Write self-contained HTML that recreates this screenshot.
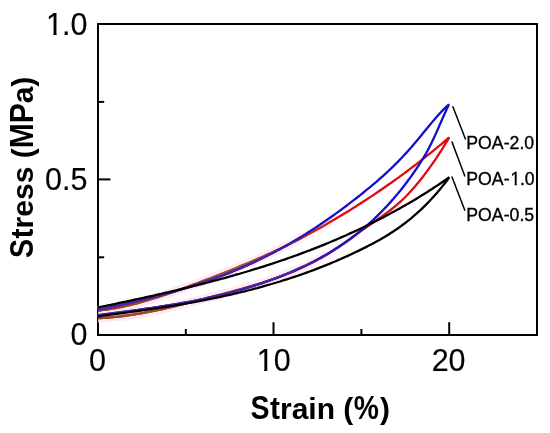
<!DOCTYPE html>
<html><head><meta charset="utf-8"><style>
html,body{margin:0;padding:0;background:#fff;}
body{width:550px;height:433px;overflow:hidden;position:relative;}
svg{position:absolute;left:0;top:0;}
text{font-family:"Liberation Sans",Arial,sans-serif;fill:#000;}
.tt{position:absolute;font-family:"Liberation Sans",Arial,sans-serif;font-weight:bold;font-size:30px;line-height:30px;height:30px;white-space:nowrap;color:#000;margin:0;padding:0;}
.tt span{display:inline-block;transform-origin:50% 25.4px;}
.cs{transform:scale(0.95,1.11);} .ct{transform:scaleY(1.07);} .cp{transform:scale(0.94,1.13);} .cm{transform:scaleY(1.08);}
#xt{left:249.99px;top:394.1px;}
#yt{left:33px;top:233.17px;transform-origin:0 25.4px;transform:rotate(-90deg);}
</style></head><body>
<svg width="550" height="433" viewBox="0 0 550 433">
<g stroke="#000" stroke-width="2" fill="none">
<rect x="98" y="24" width="439" height="311"/>
</g>
<g stroke="#000" stroke-width="2">
<line x1="98" y1="179.4" x2="110.5" y2="179.4"/>
<line x1="98" y1="101.9" x2="104.2" y2="101.9"/>
<line x1="98" y1="257.3" x2="104.2" y2="257.3"/>
<line x1="273.5" y1="335" x2="273.5" y2="322.2"/>
<line x1="449.2" y1="335" x2="449.2" y2="322.2"/>
<line x1="185.8" y1="335" x2="185.8" y2="329"/>
<line x1="361.4" y1="335" x2="361.4" y2="329"/>
</g>
<defs>
<linearGradient id="gPink" gradientUnits="userSpaceOnUse" x1="98" y1="0" x2="360" y2="0">
<stop offset="0" stop-color="#fde6ef" stop-opacity="0.9"/><stop offset="0.75" stop-color="#fde6ef" stop-opacity="0.7"/><stop offset="1" stop-color="#fde6ef" stop-opacity="0"/></linearGradient>
<linearGradient id="gBrL" gradientUnits="userSpaceOnUse" x1="98" y1="0" x2="335" y2="0">
<stop offset="0" stop-color="#8f4c2a"/><stop offset="0.8" stop-color="#9a5030"/><stop offset="1" stop-color="#9a5030" stop-opacity="0"/></linearGradient>
<linearGradient id="gBrU" gradientUnits="userSpaceOnUse" x1="98" y1="0" x2="365" y2="0">
<stop offset="0" stop-color="#8f4c2a"/><stop offset="0.82" stop-color="#9a5030"/><stop offset="1" stop-color="#9a5030" stop-opacity="0"/></linearGradient>
<linearGradient id="gPuL" gradientUnits="userSpaceOnUse" x1="98" y1="0" x2="320" y2="0">
<stop offset="0" stop-color="#5226a6"/><stop offset="0.75" stop-color="#5226a6" stop-opacity="0.8"/><stop offset="1" stop-color="#5226a6" stop-opacity="0"/></linearGradient>
<linearGradient id="gPuU" gradientUnits="userSpaceOnUse" x1="98" y1="0" x2="350" y2="0">
<stop offset="0" stop-color="#5226a6"/><stop offset="0.8" stop-color="#5226a6" stop-opacity="0.8"/><stop offset="1" stop-color="#5226a6" stop-opacity="0"/></linearGradient>
</defs>
<path d="M98.00,310.51 L100.53,310.25 L103.05,309.96 L105.58,309.64 L108.11,309.29 L110.64,308.90 L113.16,308.48 L115.69,308.04 L118.22,307.57 L120.75,307.07 L123.27,306.54 L125.80,305.99 L128.33,305.41 L130.86,304.80 L133.38,304.18 L135.91,303.53 L138.44,302.86 L140.96,302.17 L143.49,301.46 L146.02,300.74 L148.55,299.99 L151.07,299.23 L153.60,298.45 L156.13,297.65 L158.66,296.85 L161.18,296.02 L163.71,295.19 L166.24,294.34 L168.77,293.48 L171.29,292.61 L173.82,291.74 L176.35,290.85 L178.87,289.96 L181.40,289.06 L183.93,288.15 L186.46,287.23 L188.98,286.31 L191.51,285.38 L194.04,284.44 L196.57,283.50 L199.09,282.55 L201.62,281.60 L204.15,280.64 L206.68,279.68 L209.20,278.71 L211.73,277.73 L214.26,276.75 L216.78,275.77 L219.31,274.78 L221.84,273.79 L224.37,272.79 L226.89,271.79 L229.42,270.78 L231.95,269.76 L234.48,268.74 L237.00,267.71 L239.53,266.67 L242.06,265.63 L244.59,264.57 L247.11,263.51 L249.64,262.44 L252.17,261.36 L254.69,260.27 L257.22,259.17 L259.75,258.06 L262.28,256.94 L264.80,255.81 L267.33,254.66 L269.86,253.51 L272.39,252.34 L274.91,251.16 L277.44,249.97 L279.97,248.76 L282.50,247.54 L285.02,246.31 L287.55,245.06 L290.08,243.80 L292.61,242.53 L295.13,241.24 L297.66,239.94 L300.19,238.63 L302.71,237.30 L305.24,235.96 L307.77,234.60 L310.30,233.24 L312.82,231.86 L315.35,230.46 L317.88,229.06 L320.41,227.64 L322.93,226.21 L325.46,224.76 L327.99,223.30 L330.52,221.83 L333.04,220.35 L335.57,218.85 L338.10,217.35 L340.62,215.83 L343.15,214.29 L345.68,212.75 L348.21,211.19 L350.73,209.62 L353.26,208.03 L355.79,206.44 L358.32,204.83" fill="none" stroke="url(#gPink)" stroke-width="9" stroke-linecap="butt"/>
<path d="M98.00,318.20 L100.53,318.08 L103.05,317.94 L105.58,317.77 L108.11,317.58 L110.64,317.37 L113.16,317.14 L115.69,316.88 L118.22,316.61 L120.75,316.31 L123.27,316.00 L125.80,315.67 L128.33,315.31 L130.86,314.94 L133.38,314.56 L135.91,314.15 L138.44,313.73 L140.96,313.30 L143.49,312.85 L146.02,312.38 L148.55,311.90 L151.07,311.41 L153.60,310.90 L156.13,310.38 L158.66,309.85 L161.18,309.31 L163.71,308.76 L166.24,308.19 L168.77,307.62 L171.29,307.04 L173.82,306.45 L176.35,305.85 L178.87,305.24 L181.40,304.62 L183.93,304.00 L186.46,303.37 L188.98,302.74 L191.51,302.10 L194.04,301.46 L196.57,300.81 L199.09,300.16 L201.62,299.51 L204.15,298.86 L206.68,298.20 L209.20,297.54 L211.73,296.88 L214.26,296.22 L216.78,295.56 L219.31,294.91 L221.84,294.24 L224.37,293.58 L226.89,292.92 L229.42,292.25 L231.95,291.58 L234.48,290.90 L237.00,290.21 L239.53,289.52 L242.06,288.82 L244.59,288.11 L247.11,287.39 L249.64,286.66 L252.17,285.92 L254.69,285.16 L257.22,284.39 L259.75,283.61 L262.28,282.81 L264.80,282.00 L267.33,281.17 L269.86,280.32 L272.39,279.45 L274.91,278.56 L277.44,277.65 L279.97,276.72 L282.50,275.77 L285.02,274.79 L287.55,273.79 L290.08,272.76 L292.61,271.71 L295.13,270.63 L297.66,269.53 L300.19,268.39 L302.71,267.23 L305.24,266.03 L307.77,264.80 L310.30,263.54 L312.82,262.24 L315.35,260.91 L317.88,259.55 L320.41,258.14 L322.93,256.70 L325.46,255.22 L327.99,253.70 L330.52,252.14 L333.04,250.54 L335.57,248.90 L338.10,247.21 L340.62,245.49 L343.15,243.74 L345.68,241.97 L348.21,240.17 L350.73,238.37 L353.26,236.55 L355.79,234.72 L358.32,232.90" fill="none" stroke="url(#gPink)" stroke-width="9" stroke-linecap="butt"/>
<path d="M98.00,310.51 L100.53,310.25 L103.05,309.96 L105.58,309.64 L108.11,309.29 L110.64,308.90 L113.16,308.48 L115.69,308.04 L118.22,307.57 L120.75,307.07 L123.27,306.54 L125.80,305.99 L128.33,305.41 L130.86,304.80 L133.38,304.18 L135.91,303.53 L138.44,302.86 L140.96,302.17 L143.49,301.46 L146.02,300.74 L148.55,299.99 L151.07,299.23 L153.60,298.45 L156.13,297.65 L158.66,296.85 L161.18,296.02 L163.71,295.19 L166.24,294.34 L168.77,293.48 L171.29,292.61 L173.82,291.74 L176.35,290.85 L178.87,289.96 L181.40,289.06 L183.93,288.15 L186.46,287.23 L188.98,286.31 L191.51,285.38 L194.04,284.44 L196.57,283.50 L199.09,282.55 L201.62,281.60 L204.15,280.64 L206.68,279.68 L209.20,278.71 L211.73,277.73 L214.26,276.75 L216.78,275.77 L219.31,274.78 L221.84,273.79 L224.37,272.79 L226.89,271.79 L229.42,270.78 L231.95,269.76 L234.48,268.74 L237.00,267.71 L239.53,266.67 L242.06,265.63 L244.59,264.57 L247.11,263.51 L249.64,262.44 L252.17,261.36 L254.69,260.27 L257.22,259.17 L259.75,258.06 L262.28,256.94 L264.80,255.81 L267.33,254.66 L269.86,253.51 L272.39,252.34 L274.91,251.16 L277.44,249.97 L279.97,248.76 L282.50,247.54 L285.02,246.31 L287.55,245.06 L290.08,243.80 L292.61,242.53 L295.13,241.24 L297.66,239.94 L300.19,238.63 L302.71,237.30 L305.24,235.96 L307.77,234.60 L310.30,233.24 L312.82,231.86 L315.35,230.46 L317.88,229.06 L320.41,227.64 L322.93,226.21 L325.46,224.76 L327.99,223.30 L330.52,221.83 L333.04,220.35 L335.57,218.85 L338.10,217.35 L340.62,215.83 L343.15,214.29 L345.68,212.75 L348.21,211.19 L350.73,209.62 L353.26,208.03 L355.79,206.44 L358.32,204.83 L360.84,203.21 L363.37,201.58 L365.90,199.93 L368.43,198.28 L370.95,196.60 L373.48,194.92 L376.01,193.22 L378.53,191.51 L381.06,189.79 L383.59,188.05 L386.12,186.30 L388.64,184.53 L391.17,182.75 L393.70,180.95 L396.23,179.14 L398.75,177.31 L401.28,175.47 L403.81,173.61 L406.34,171.74 L408.86,169.85 L411.39,167.95 L413.92,166.03 L416.44,164.09 L418.97,162.13 L421.50,160.16 L424.03,158.17 L426.55,156.17 L429.08,154.14 L431.61,152.10 L434.14,150.04 L436.66,147.97 L439.19,145.87 L441.72,143.76 L444.25,141.62 L446.77,139.47 L449.30,137.30 L446.77,141.57 L444.25,145.73 L441.72,149.77 L439.19,153.71 L436.66,157.55 L434.14,161.28 L431.61,164.92 L429.08,168.45 L426.55,171.90 L424.03,175.25 L421.50,178.51 L418.97,181.68 L416.44,184.75 L413.92,187.72 L411.39,190.59 L408.86,193.34 L406.34,195.98 L403.81,198.50 L401.28,200.90 L398.75,203.18 L396.23,205.37 L393.70,207.46 L391.17,209.48 L388.64,211.42 L386.12,213.30 L383.59,215.14 L381.06,216.94 L378.53,218.70 L376.01,220.45 L373.48,222.19 L370.95,223.94 L368.43,225.69 L365.90,227.47 L363.37,229.26 L360.84,231.08 L358.32,232.90 L355.79,234.72 L353.26,236.55 L350.73,238.37 L348.21,240.17 L345.68,241.97 L343.15,243.74 L340.62,245.49 L338.10,247.21 L335.57,248.90 L333.04,250.54 L330.52,252.14 L327.99,253.70 L325.46,255.22 L322.93,256.70 L320.41,258.14 L317.88,259.55 L315.35,260.91 L312.82,262.24 L310.30,263.54 L307.77,264.80 L305.24,266.03 L302.71,267.23 L300.19,268.39 L297.66,269.53 L295.13,270.63 L292.61,271.71 L290.08,272.76 L287.55,273.79 L285.02,274.79 L282.50,275.77 L279.97,276.72 L277.44,277.65 L274.91,278.56 L272.39,279.45 L269.86,280.32 L267.33,281.17 L264.80,282.00 L262.28,282.81 L259.75,283.61 L257.22,284.39 L254.69,285.16 L252.17,285.92 L249.64,286.66 L247.11,287.39 L244.59,288.11 L242.06,288.82 L239.53,289.52 L237.00,290.21 L234.48,290.90 L231.95,291.58 L229.42,292.25 L226.89,292.92 L224.37,293.58 L221.84,294.24 L219.31,294.91 L216.78,295.56 L214.26,296.22 L211.73,296.88 L209.20,297.54 L206.68,298.20 L204.15,298.86 L201.62,299.51 L199.09,300.16 L196.57,300.81 L194.04,301.46 L191.51,302.10 L188.98,302.74 L186.46,303.37 L183.93,304.00 L181.40,304.62 L178.87,305.24 L176.35,305.85 L173.82,306.45 L171.29,307.04 L168.77,307.62 L166.24,308.19 L163.71,308.76 L161.18,309.31 L158.66,309.85 L156.13,310.38 L153.60,310.90 L151.07,311.41 L148.55,311.90 L146.02,312.38 L143.49,312.85 L140.96,313.30 L138.44,313.73 L135.91,314.15 L133.38,314.56 L130.86,314.94 L128.33,315.31 L125.80,315.67 L123.27,316.00 L120.75,316.31 L118.22,316.61 L115.69,316.88 L113.16,317.14 L110.64,317.37 L108.11,317.58 L105.58,317.77 L103.05,317.94 L100.53,318.08 L98.00,318.20" fill="none" stroke="#e00a14" stroke-width="2.3" stroke-linejoin="bevel" stroke-linecap="butt"/>
<path d="M98.00,310.51 L100.53,310.25 L103.05,309.96 L105.58,309.64 L108.11,309.29 L110.64,308.90 L113.16,308.48 L115.69,308.04 L118.22,307.57 L120.75,307.07 L123.27,306.54 L125.80,305.99 L128.33,305.41 L130.86,304.80 L133.38,304.18 L135.91,303.53 L138.44,302.86 L140.96,302.17 L143.49,301.46 L146.02,300.74 L148.55,299.99 L151.07,299.23 L153.60,298.45 L156.13,297.65 L158.66,296.85 L161.18,296.02 L163.71,295.19 L166.24,294.34 L168.77,293.48 L171.29,292.61 L173.82,291.74 L176.35,290.85 L178.87,289.96 L181.40,289.06 L183.93,288.15 L186.46,287.23 L188.98,286.31 L191.51,285.38 L194.04,284.44 L196.57,283.50 L199.09,282.55 L201.62,281.60 L204.15,280.64 L206.68,279.68 L209.20,278.71 L211.73,277.73 L214.26,276.75 L216.78,275.77 L219.31,274.78 L221.84,273.79 L224.37,272.79 L226.89,271.79 L229.42,270.78 L231.95,269.76 L234.48,268.74 L237.00,267.71 L239.53,266.67 L242.06,265.63 L244.59,264.57 L247.11,263.51 L249.64,262.44 L252.17,261.36 L254.69,260.27 L257.22,259.17 L259.75,258.06 L262.28,256.94 L264.80,255.81 L267.33,254.66 L269.86,253.51 L272.39,252.34 L274.91,251.16 L277.44,249.97 L279.97,248.76 L282.50,247.54 L285.02,246.31 L287.55,245.06 L290.08,243.80 L292.61,242.53 L295.13,241.24 L297.66,239.94 L300.19,238.63 L302.71,237.30 L305.24,235.96 L307.77,234.60 L310.30,233.24 L312.82,231.86 L315.35,230.46 L317.88,229.06 L320.41,227.64 L322.93,226.21 L325.46,224.76 L327.99,223.30 L330.52,221.83 L333.04,220.35" fill="none" stroke="url(#gBrL)" stroke-width="2.3"/>
<path d="M98.00,318.20 L100.53,318.08 L103.05,317.94 L105.58,317.77 L108.11,317.58 L110.64,317.37 L113.16,317.14 L115.69,316.88 L118.22,316.61 L120.75,316.31 L123.27,316.00 L125.80,315.67 L128.33,315.31 L130.86,314.94 L133.38,314.56 L135.91,314.15 L138.44,313.73 L140.96,313.30 L143.49,312.85 L146.02,312.38 L148.55,311.90 L151.07,311.41 L153.60,310.90 L156.13,310.38 L158.66,309.85 L161.18,309.31 L163.71,308.76 L166.24,308.19 L168.77,307.62 L171.29,307.04 L173.82,306.45 L176.35,305.85 L178.87,305.24 L181.40,304.62 L183.93,304.00 L186.46,303.37 L188.98,302.74 L191.51,302.10 L194.04,301.46 L196.57,300.81 L199.09,300.16 L201.62,299.51 L204.15,298.86 L206.68,298.20 L209.20,297.54 L211.73,296.88 L214.26,296.22 L216.78,295.56 L219.31,294.91 L221.84,294.24 L224.37,293.58 L226.89,292.92 L229.42,292.25 L231.95,291.58 L234.48,290.90 L237.00,290.21 L239.53,289.52 L242.06,288.82 L244.59,288.11 L247.11,287.39 L249.64,286.66 L252.17,285.92 L254.69,285.16 L257.22,284.39 L259.75,283.61 L262.28,282.81 L264.80,282.00 L267.33,281.17 L269.86,280.32 L272.39,279.45 L274.91,278.56 L277.44,277.65 L279.97,276.72 L282.50,275.77 L285.02,274.79 L287.55,273.79 L290.08,272.76 L292.61,271.71 L295.13,270.63 L297.66,269.53 L300.19,268.39 L302.71,267.23 L305.24,266.03 L307.77,264.80 L310.30,263.54 L312.82,262.24 L315.35,260.91 L317.88,259.55 L320.41,258.14 L322.93,256.70 L325.46,255.22 L327.99,253.70 L330.52,252.14 L333.04,250.54 L335.57,248.90 L338.10,247.21 L340.62,245.49 L343.15,243.74 L345.68,241.97 L348.21,240.17 L350.73,238.37 L353.26,236.55 L355.79,234.72 L358.32,232.90 L360.84,231.08 L363.37,229.26" fill="none" stroke="url(#gBrU)" stroke-width="2.3"/>
<path d="M98.00,310.01 L100.53,309.46 L103.05,308.91 L105.58,308.36 L108.10,307.80 L110.63,307.24 L113.15,306.68 L115.68,306.11 L118.20,305.54 L120.73,304.97 L123.25,304.39 L125.78,303.81 L128.30,303.23 L130.83,302.64 L133.35,302.04 L135.88,301.44 L138.40,300.83 L140.93,300.22 L143.45,299.60 L145.98,298.97 L148.50,298.34 L151.03,297.70 L153.55,297.05 L156.08,296.40 L158.60,295.73 L161.13,295.06 L163.65,294.38 L166.18,293.69 L168.71,293.00 L171.23,292.29 L173.76,291.57 L176.28,290.85 L178.81,290.11 L181.33,289.37 L183.86,288.61 L186.38,287.84 L188.91,287.06 L191.43,286.27 L193.96,285.47 L196.48,284.65 L199.01,283.82 L201.53,282.98 L204.06,282.13 L206.58,281.27 L209.11,280.39 L211.63,279.49 L214.16,278.59 L216.68,277.66 L219.21,276.73 L221.73,275.78 L224.26,274.81 L226.78,273.83 L229.31,272.83 L231.83,271.82 L234.36,270.79 L236.88,269.75 L239.41,268.69 L241.94,267.61 L244.46,266.51 L246.99,265.40 L249.51,264.27 L252.04,263.12 L254.56,261.95 L257.09,260.76 L259.61,259.56 L262.14,258.33 L264.66,257.09 L267.19,255.82 L269.71,254.54 L272.24,253.23 L274.76,251.91 L277.29,250.56 L279.81,249.20 L282.34,247.81 L284.86,246.40 L287.39,244.97 L289.91,243.52 L292.44,242.04 L294.96,240.55 L297.49,239.03 L300.01,237.50 L302.54,235.94 L305.06,234.37 L307.59,232.77 L310.12,231.15 L312.64,229.52 L315.17,227.86 L317.69,226.19 L320.22,224.49 L322.74,222.77 L325.27,221.04 L327.79,219.29 L330.32,217.51 L332.84,215.72 L335.37,213.91 L337.89,212.08 L340.42,210.23 L342.94,208.36 L345.47,206.48 L347.99,204.57 L350.52,202.65 L353.04,200.71 L355.57,198.75 L358.09,196.77 L360.62,194.78 L363.14,192.76 L365.67,190.72 L368.19,188.66 L370.72,186.57 L373.24,184.45 L375.77,182.30 L378.29,180.12 L380.82,177.90 L383.35,175.64 L385.87,173.33 L388.40,170.98 L390.92,168.59 L393.45,166.15 L395.97,163.65 L398.50,161.10 L401.02,158.50 L403.55,155.83 L406.07,153.11 L408.60,150.32 L411.12,147.46 L413.65,144.54 L416.17,141.55 L418.70,138.51 L421.22,135.43 L423.75,132.33 L426.27,129.24 L428.80,126.16 L431.32,123.12 L433.85,120.13 L436.37,117.21 L438.90,114.38 L441.42,111.66 L443.95,109.06 L446.47,106.60 L449.00,104.30 L446.47,109.72 L443.95,115.31 L441.42,121.01 L438.90,126.74 L436.37,132.41 L433.85,137.95 L431.32,143.29 L428.80,148.35 L426.27,153.06 L423.75,157.41 L421.22,161.48 L418.70,165.36 L416.17,169.12 L413.65,172.78 L411.12,176.34 L408.60,179.81 L406.07,183.19 L403.55,186.47 L401.02,189.67 L398.50,192.78 L395.97,195.81 L393.45,198.76 L390.92,201.63 L388.40,204.43 L385.87,207.16 L383.35,209.81 L380.82,212.40 L378.29,214.92 L375.77,217.38 L373.24,219.78 L370.72,222.11 L368.19,224.38 L365.67,226.60 L363.14,228.76 L360.62,230.86 L358.09,232.90 L355.57,234.90 L353.04,236.84 L350.52,238.73 L347.99,240.57 L345.47,242.37 L342.94,244.11 L340.42,245.81 L337.89,247.47 L335.37,249.09 L332.84,250.66 L330.32,252.20 L327.79,253.70 L325.27,255.16 L322.74,256.58 L320.22,257.97 L317.69,259.33 L315.17,260.65 L312.64,261.95 L310.12,263.22 L307.59,264.46 L305.06,265.67 L302.54,266.86 L300.01,268.02 L297.49,269.17 L294.96,270.29 L292.44,271.39 L289.91,272.47 L287.39,273.53 L284.86,274.57 L282.34,275.59 L279.81,276.59 L277.29,277.56 L274.76,278.52 L272.24,279.47 L269.71,280.39 L267.19,281.29 L264.66,282.18 L262.14,283.05 L259.61,283.90 L257.09,284.73 L254.56,285.55 L252.04,286.35 L249.51,287.13 L246.99,287.90 L244.46,288.65 L241.94,289.38 L239.41,290.10 L236.88,290.81 L234.36,291.50 L231.83,292.18 L229.31,292.84 L226.78,293.49 L224.26,294.13 L221.73,294.75 L219.21,295.36 L216.68,295.96 L214.16,296.54 L211.63,297.12 L209.11,297.68 L206.58,298.23 L204.06,298.77 L201.53,299.29 L199.01,299.81 L196.48,300.32 L193.96,300.82 L191.43,301.30 L188.91,301.78 L186.38,302.25 L183.86,302.71 L181.33,303.16 L178.81,303.61 L176.28,304.04 L173.76,304.47 L171.23,304.89 L168.71,305.30 L166.18,305.71 L163.65,306.11 L161.13,306.51 L158.60,306.90 L156.08,307.28 L153.55,307.66 L151.03,308.03 L148.50,308.40 L145.98,308.76 L143.45,309.12 L140.93,309.47 L138.40,309.83 L135.88,310.18 L133.35,310.52 L130.83,310.86 L128.30,311.20 L125.78,311.54 L123.25,311.88 L120.73,312.22 L118.20,312.55 L115.68,312.88 L113.15,313.22 L110.63,313.55 L108.10,313.88 L105.58,314.21 L103.05,314.54 L100.53,314.88 L98.00,315.21" fill="none" stroke="#1410c8" stroke-width="2.3" stroke-linejoin="bevel" stroke-linecap="butt"/>
<path d="M98.00,310.01 L100.53,309.46 L103.05,308.91 L105.58,308.36 L108.10,307.80 L110.63,307.24 L113.15,306.68 L115.68,306.11 L118.20,305.54 L120.73,304.97 L123.25,304.39 L125.78,303.81 L128.30,303.23 L130.83,302.64 L133.35,302.04 L135.88,301.44 L138.40,300.83 L140.93,300.22 L143.45,299.60 L145.98,298.97 L148.50,298.34 L151.03,297.70 L153.55,297.05 L156.08,296.40 L158.60,295.73 L161.13,295.06 L163.65,294.38 L166.18,293.69 L168.71,293.00 L171.23,292.29 L173.76,291.57 L176.28,290.85 L178.81,290.11 L181.33,289.37 L183.86,288.61 L186.38,287.84 L188.91,287.06 L191.43,286.27 L193.96,285.47 L196.48,284.65 L199.01,283.82 L201.53,282.98 L204.06,282.13 L206.58,281.27 L209.11,280.39 L211.63,279.49 L214.16,278.59 L216.68,277.66 L219.21,276.73 L221.73,275.78 L224.26,274.81 L226.78,273.83 L229.31,272.83 L231.83,271.82 L234.36,270.79 L236.88,269.75 L239.41,268.69 L241.94,267.61 L244.46,266.51 L246.99,265.40 L249.51,264.27 L252.04,263.12 L254.56,261.95 L257.09,260.76 L259.61,259.56 L262.14,258.33 L264.66,257.09 L267.19,255.82 L269.71,254.54 L272.24,253.23 L274.76,251.91 L277.29,250.56 L279.81,249.20 L282.34,247.81 L284.86,246.40 L287.39,244.97 L289.91,243.52 L292.44,242.04 L294.96,240.55 L297.49,239.03 L300.01,237.50 L302.54,235.94 L305.06,234.37 L307.59,232.77 L310.12,231.15 L312.64,229.52 L315.17,227.86 L317.69,226.19" fill="none" stroke="url(#gPuL)" stroke-width="2.3"/>
<path d="M98.00,315.21 L100.53,314.88 L103.05,314.54 L105.58,314.21 L108.10,313.88 L110.63,313.55 L113.15,313.22 L115.68,312.88 L118.20,312.55 L120.73,312.22 L123.25,311.88 L125.78,311.54 L128.30,311.20 L130.83,310.86 L133.35,310.52 L135.88,310.18 L138.40,309.83 L140.93,309.47 L143.45,309.12 L145.98,308.76 L148.50,308.40 L151.03,308.03 L153.55,307.66 L156.08,307.28 L158.60,306.90 L161.13,306.51 L163.65,306.11 L166.18,305.71 L168.71,305.30 L171.23,304.89 L173.76,304.47 L176.28,304.04 L178.81,303.61 L181.33,303.16 L183.86,302.71 L186.38,302.25 L188.91,301.78 L191.43,301.30 L193.96,300.82 L196.48,300.32 L199.01,299.81 L201.53,299.29 L204.06,298.77 L206.58,298.23 L209.11,297.68 L211.63,297.12 L214.16,296.54 L216.68,295.96 L219.21,295.36 L221.73,294.75 L224.26,294.13 L226.78,293.49 L229.31,292.84 L231.83,292.18 L234.36,291.50 L236.88,290.81 L239.41,290.10 L241.94,289.38 L244.46,288.65 L246.99,287.90 L249.51,287.13 L252.04,286.35 L254.56,285.55 L257.09,284.73 L259.61,283.90 L262.14,283.05 L264.66,282.18 L267.19,281.29 L269.71,280.39 L272.24,279.47 L274.76,278.52 L277.29,277.56 L279.81,276.59 L282.34,275.59 L284.86,274.57 L287.39,273.53 L289.91,272.47 L292.44,271.39 L294.96,270.29 L297.49,269.17 L300.01,268.02 L302.54,266.86 L305.06,265.67 L307.59,264.46 L310.12,263.22 L312.64,261.95 L315.17,260.65 L317.69,259.33 L320.22,257.97 L322.74,256.58 L325.27,255.16 L327.79,253.70 L330.32,252.20 L332.84,250.66 L335.37,249.09 L337.89,247.47 L340.42,245.81 L342.94,244.11 L345.47,242.37 L347.99,240.57" fill="none" stroke="url(#gPuU)" stroke-width="2.3"/>
<path d="M98.00,307.53 L100.53,307.00 L103.05,306.46 L105.58,305.93 L108.11,305.39 L110.64,304.86 L113.16,304.32 L115.69,303.78 L118.22,303.24 L120.75,302.70 L123.27,302.16 L125.80,301.62 L128.33,301.07 L130.86,300.52 L133.38,299.98 L135.91,299.42 L138.44,298.87 L140.96,298.32 L143.49,297.76 L146.02,297.20 L148.55,296.64 L151.07,296.07 L153.60,295.51 L156.13,294.94 L158.66,294.36 L161.18,293.79 L163.71,293.21 L166.24,292.62 L168.77,292.04 L171.29,291.45 L173.82,290.85 L176.35,290.25 L178.87,289.65 L181.40,289.05 L183.93,288.44 L186.46,287.82 L188.98,287.20 L191.51,286.58 L194.04,285.95 L196.57,285.32 L199.09,284.68 L201.62,284.04 L204.15,283.39 L206.68,282.74 L209.20,282.08 L211.73,281.42 L214.26,280.75 L216.78,280.08 L219.31,279.40 L221.84,278.71 L224.37,278.02 L226.89,277.32 L229.42,276.61 L231.95,275.90 L234.48,275.19 L237.00,274.46 L239.53,273.73 L242.06,272.99 L244.59,272.25 L247.11,271.50 L249.64,270.74 L252.17,269.97 L254.69,269.20 L257.22,268.42 L259.75,267.63 L262.28,266.83 L264.80,266.03 L267.33,265.22 L269.86,264.40 L272.39,263.57 L274.91,262.73 L277.44,261.89 L279.97,261.03 L282.50,260.17 L285.02,259.30 L287.55,258.42 L290.08,257.53 L292.61,256.63 L295.13,255.72 L297.66,254.81 L300.19,253.88 L302.71,252.94 L305.24,252.00 L307.77,251.04 L310.30,250.08 L312.82,249.10 L315.35,248.11 L317.88,247.12 L320.41,246.11 L322.93,245.09 L325.46,244.07 L327.99,243.03 L330.52,241.98 L333.04,240.92 L335.57,239.85 L338.10,238.76 L340.62,237.67 L343.15,236.56 L345.68,235.45 L348.21,234.32 L350.73,233.17 L353.26,232.02 L355.79,230.85 L358.32,229.67 L360.84,228.48 L363.37,227.28 L365.90,226.06 L368.43,224.83 L370.95,223.58 L373.48,222.32 L376.01,221.05 L378.53,219.76 L381.06,218.46 L383.59,217.15 L386.12,215.82 L388.64,214.47 L391.17,213.11 L393.70,211.74 L396.23,210.35 L398.75,208.94 L401.28,207.52 L403.81,206.08 L406.34,204.63 L408.86,203.16 L411.39,201.68 L413.92,200.17 L416.44,198.65 L418.97,197.12 L421.50,195.57 L424.03,193.99 L426.55,192.41 L429.08,190.80 L431.61,189.18 L434.14,187.54 L436.66,185.88 L439.19,184.20 L441.72,182.50 L444.25,180.79 L446.77,179.06 L449.30,177.30 L446.77,180.70 L444.25,183.97 L441.72,187.14 L439.19,190.20 L436.66,193.17 L434.14,196.05 L431.61,198.83 L429.08,201.52 L426.55,204.12 L424.03,206.64 L421.50,209.07 L418.97,211.43 L416.44,213.70 L413.92,215.91 L411.39,218.04 L408.86,220.10 L406.34,222.10 L403.81,224.03 L401.28,225.90 L398.75,227.71 L396.23,229.46 L393.70,231.17 L391.17,232.82 L388.64,234.42 L386.12,235.98 L383.59,237.49 L381.06,238.97 L378.53,240.40 L376.01,241.81 L373.48,243.18 L370.95,244.52 L368.43,245.83 L365.90,247.12 L363.37,248.39 L360.84,249.64 L358.32,250.87 L355.79,252.08 L353.26,253.28 L350.73,254.46 L348.21,255.63 L345.68,256.78 L343.15,257.91 L340.62,259.03 L338.10,260.13 L335.57,261.21 L333.04,262.28 L330.52,263.34 L327.99,264.38 L325.46,265.40 L322.93,266.41 L320.41,267.41 L317.88,268.39 L315.35,269.36 L312.82,270.31 L310.30,271.25 L307.77,272.18 L305.24,273.09 L302.71,273.98 L300.19,274.87 L297.66,275.74 L295.13,276.60 L292.61,277.44 L290.08,278.28 L287.55,279.10 L285.02,279.90 L282.50,280.70 L279.97,281.48 L277.44,282.25 L274.91,283.01 L272.39,283.76 L269.86,284.50 L267.33,285.22 L264.80,285.94 L262.28,286.64 L259.75,287.33 L257.22,288.02 L254.69,288.69 L252.17,289.35 L249.64,290.00 L247.11,290.64 L244.59,291.27 L242.06,291.89 L239.53,292.50 L237.00,293.10 L234.48,293.69 L231.95,294.28 L229.42,294.85 L226.89,295.42 L224.37,295.98 L221.84,296.52 L219.31,297.06 L216.78,297.60 L214.26,298.12 L211.73,298.64 L209.20,299.15 L206.68,299.65 L204.15,300.14 L201.62,300.63 L199.09,301.11 L196.57,301.58 L194.04,302.05 L191.51,302.51 L188.98,302.96 L186.46,303.40 L183.93,303.85 L181.40,304.28 L178.87,304.71 L176.35,305.13 L173.82,305.55 L171.29,305.96 L168.77,306.37 L166.24,306.77 L163.71,307.17 L161.18,307.56 L158.66,307.95 L156.13,308.33 L153.60,308.71 L151.07,309.09 L148.55,309.46 L146.02,309.83 L143.49,310.19 L140.96,310.55 L138.44,310.91 L135.91,311.26 L133.38,311.62 L130.86,311.96 L128.33,312.31 L125.80,312.65 L123.27,313.00 L120.75,313.33 L118.22,313.67 L115.69,314.01 L113.16,314.34 L110.64,314.67 L108.11,315.00 L105.58,315.33 L103.05,315.66 L100.53,315.99 L98.00,316.31" fill="none" stroke="#000000" stroke-width="2.3" stroke-linejoin="bevel" stroke-linecap="butt"/>
<g stroke="#000" stroke-width="1.5">
<line x1="452.7" y1="106.2" x2="465.6" y2="139.5"/>
<line x1="451.8" y1="141.5" x2="465" y2="176.6"/>
<line x1="451.8" y1="176.6" x2="465" y2="210.8"/>
</g>
<g font-size="30.5" text-anchor="end" stroke="#000" stroke-width="0.15">
<text x="86.5" y="34.5"><tspan dx="1">1</tspan><tspan dx="-1">.0</tspan></text>
<text x="87.5" y="190.2">0.5</text>
<text x="87.5" y="345">0</text>
</g>
<g font-size="30.5" text-anchor="middle" stroke="#000" stroke-width="0.15">
<text x="97.6" y="370.8">0</text>
<text x="273.8" y="370.8">10</text>
<text x="448.6" y="370.8">20</text>
</g>
<g font-size="17.7" stroke="#000" stroke-width="0.35">
<text x="466.3" y="149.2">POA-2.0</text>
<text x="466.3" y="184.7">POA-<tspan dx="1">1</tspan><tspan dx="-0.5">.0</tspan></text>
<text x="466.3" y="220.8">POA-0.5</text>
</g>
<g fill="#fff">
<rect x="47.3" y="31.5" width="6.1" height="4.2"/><rect x="56.6" y="31.5" width="6.5" height="4.2"/>
<rect x="258.3" y="367.5" width="5.9" height="4.2"/><rect x="267.3" y="367.5" width="6" height="4.2"/>
<rect x="510.5" y="182.1" width="4.1" height="4.3"/><rect x="516.8" y="182.1" width="3.6" height="4.3"/>
</g>

</svg>
<div class="tt" id="xt"><span class="cs">S</span><span class="ct">t</span>rain (<span class="cp">%</span>)</div>
<div class="tt" id="yt"><span class="cs">S</span><span class="ct">t</span>ress (<span class="cm">MP</span>a)</div>
</body></html>
